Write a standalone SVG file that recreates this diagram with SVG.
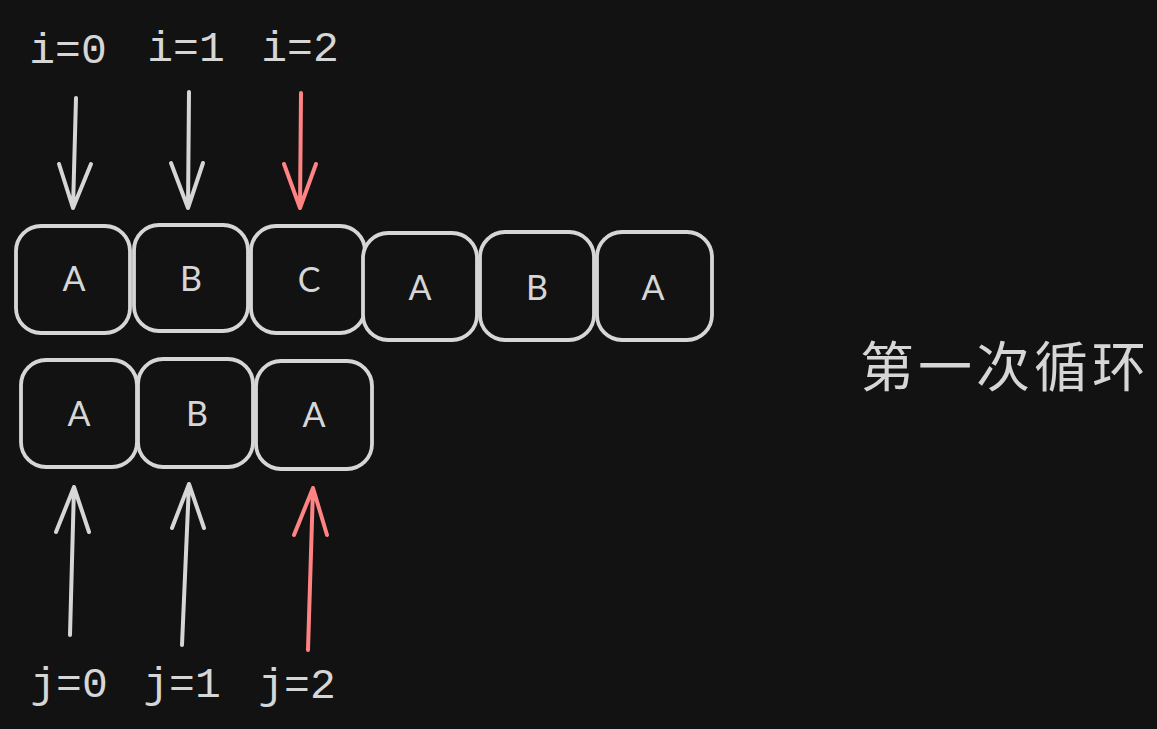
<svg xmlns="http://www.w3.org/2000/svg" width="1157" height="729" viewBox="0 0 1157 729">
<defs>
<style>
.box{fill:#121212;stroke:#d6d6d6;stroke-width:3.8}
.lt{font-family:"Lato","Noto Sans",sans-serif;font-weight:400;font-size:34px;fill:#d6d6d6;text-anchor:middle}
.lbl{font-family:"Liberation Mono","DejaVu Sans Mono",monospace;font-size:43px;fill:#d6d6d6;text-anchor:middle}
.cn{font-family:"Noto Sans CJK SC","Noto Sans CJK JP",sans-serif;font-size:54px;letter-spacing:4px;fill:#d6d6d6}
.ar{fill:none;stroke:#d6d6d6;stroke-width:4;stroke-linecap:round;stroke-linejoin:round}
.red{stroke:#ff8383}
</style>
</defs>
<rect width="1157" height="729" fill="#121212"/>
<g id="labels-i">
<text class="lbl" x="68" y="63">i=0</text>
<text class="lbl" x="186" y="61">i=1</text>
<text class="lbl" x="300" y="61">i=2</text>
</g>
<g id="top-row">
<g id="t1"><rect class="box" x="16" y="226" width="114" height="107" rx="25"/><text class="lt" x="74" y="291">A</text></g>
<g id="t2"><rect class="box" x="134" y="225" width="114" height="106" rx="25"/><text class="lt" x="191" y="291">B</text></g>
<g id="t3"><rect class="box" x="251" y="226" width="114" height="107" rx="25"/><text class="lt" x="309" y="292">C</text></g>
<g id="t4"><rect class="box" x="363" y="233" width="114" height="107" rx="25"/><text class="lt" x="420" y="300">A</text></g>
<g id="t5"><rect class="box" x="480" y="232" width="114" height="108" rx="25"/><text class="lt" x="537" y="300">B</text></g>
<g id="t6"><rect class="box" x="597" y="232" width="115" height="108" rx="25"/><text class="lt" x="653" y="300">A</text></g>
</g>
<g id="bottom-row">
<g id="b1"><rect class="box" x="21" y="360" width="116" height="107" rx="25"/><text class="lt" x="79" y="426">A</text></g>
<g id="b2"><rect class="box" x="138" y="359" width="115" height="108" rx="25"/><text class="lt" x="197" y="426">B</text></g>
<g id="b3"><rect class="box" x="256" y="361" width="116" height="108" rx="25"/><text class="lt" x="314" y="427">A</text></g>
</g>
<g id="connectors">
<path class="ar" d="M76 98 L73 208 M59 164 L73 208 L91 164"/>
<path class="ar" d="M189 92 L188 208 M171 163 L188 208 L203 163"/>
<path class="ar red" d="M301 93 L300 208 M284 164 L300 208 L316 164"/>
<path class="ar" d="M70 635 L74 487 M56 532 L74 487 L89 532"/>
<path class="ar" d="M182 645 L189 484 M172 528 L189 484 L204 528"/>
<path class="ar red" d="M308 650 L313 488 M294 535 L313 488 L327 535"/>
</g>
<g id="labels-j">
<text class="lbl" x="69" y="697">j=0</text>
<text class="lbl" x="182" y="697">j=1</text>
<text class="lbl" x="297" y="698">j=2</text>
</g>
<g id="title">
<text class="cn" x="860" y="387">第一次循环</text>
</g>
</svg>
